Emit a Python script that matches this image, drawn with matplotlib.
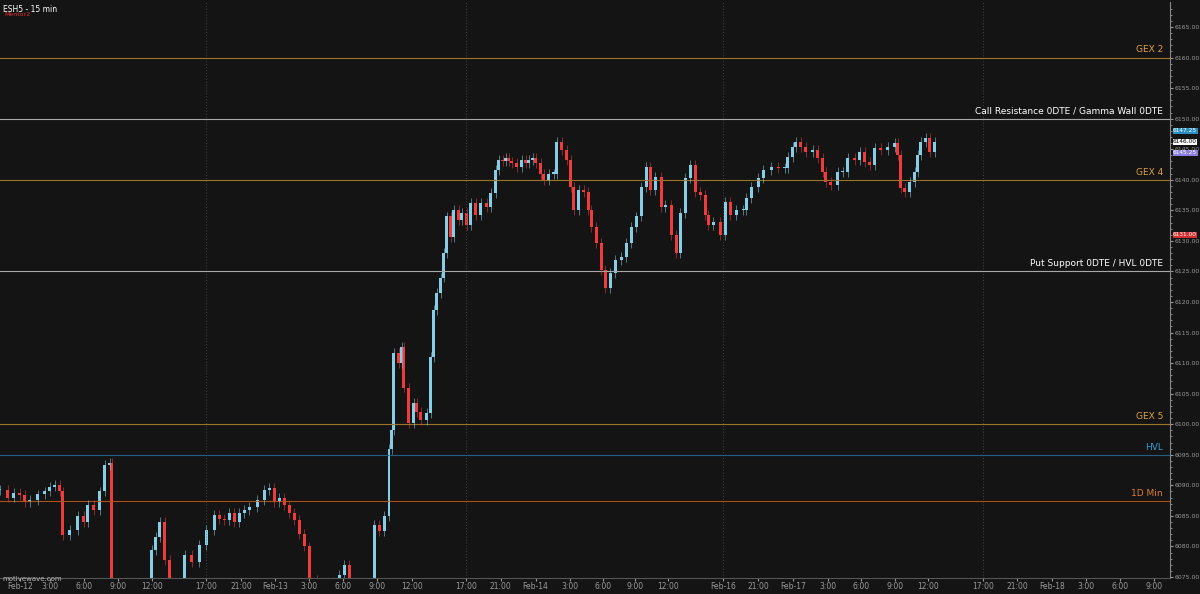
import matplotlib
matplotlib.use("Agg")
import matplotlib.pyplot as plt
import numpy as np

# chart time units (1 unit ~ 5.4 min) and closes
bar_pos = [0,8,14,20,25,30,38,45,50,55,60,63,70,78,84,88,94,100,105,110,112,118,130,145,152,156,160,165,170,175,180,185,192,200,207,215,220,225,230,235,240,245,250,258,265,270,275,280,285,290,295,300,305,310,318,328,340,345,350,360,370,375,380,385,390,393,395,400,403,405,410,415,418,422,428,432,435,438,442,445,448,452,455,460,463,468,472,477,482,488,492,497,500,504,507,510,513,518,523,527,530,534,537,542,545,550,555,558,563,568,572,575,580,585,590,593,598,603,607,612,617,623,628,633,638,643,648,652,657,663,667,673,678,682,687,692,697,702,707,710,715,722,727,732,738,745,748,753,760,765,773,780,787,790,795,798,803,808,815,820,825,828,833,840,845,850,857,862,867,872,877,883,890,897,900,903,907,912,917,920,923,928,932,937]
close = [6089.2,6088.0,6088.8,6088.4,6087.2,6087.6,6088.5,6089.0,6089.8,6090.0,6089.0,6081.9,6082.7,6085.0,6084.0,6086.8,6086.0,6089.0,6093.3,6093.7,6070.0,6068.0,6066.0,6070.0,6079.4,6081.5,6084.0,6077.8,6074.0,6070.0,6074.0,6078.6,6077.5,6080.2,6082.7,6085.2,6084.5,6084.3,6085.5,6084.0,6085.5,6086.0,6086.5,6087.6,6089.2,6089.6,6087.3,6088.0,6086.8,6085.5,6084.3,6082.0,6080.0,6074.5,6068.0,6068.0,6075.3,6077.0,6072.0,6068.0,6068.0,6083.5,6082.5,6085.0,6096.0,6099.0,6111.6,6110.0,6112.6,6106.0,6100.2,6103.5,6102.0,6100.7,6101.8,6111.0,6118.7,6121.5,6124.0,6128.0,6134.0,6130.6,6135.0,6133.4,6134.5,6132.6,6136.2,6134.2,6136.2,6135.5,6137.8,6141.6,6143.2,6143.0,6143.6,6143.0,6142.7,6142.1,6143.2,6142.8,6143.2,6143.5,6142.7,6141.0,6140.0,6141.0,6141.0,6146.2,6144.9,6143.2,6138.8,6135.0,6138.3,6138.0,6135.0,6132.3,6129.7,6125.2,6122.3,6124.7,6126.9,6127.4,6129.7,6132.3,6134.0,6138.8,6142.1,6138.3,6140.5,6135.5,6135.9,6131.0,6128.0,6134.6,6140.3,6142.4,6138.0,6137.5,6134.2,6132.6,6133.1,6131.0,6136.4,6134.2,6135.0,6135.0,6137.0,6138.8,6140.3,6141.6,6142.1,6141.9,6141.9,6143.7,6145.4,6146.2,6145.4,6144.5,6144.9,6143.6,6141.3,6139.6,6139.1,6141.3,6141.3,6143.6,6143.2,6144.5,6142.9,6142.4,6145.2,6144.9,6145.4,6146.0,6144.1,6138.7,6138.0,6139.6,6141.3,6144.1,6146.2,6146.8,6144.5,6146.2]

levels = [6160, 6150, 6140, 6125, 6100, 6095, 6087.5]
level_labels = ["GEX 2", "Call Resistance 0DTE / Gamma Wall 0DTE", "GEX 4",
                "Put Support 0DTE / HVL 0DTE", "GEX 5", "HVL", "1D Min"]
level_colors = ["#9c7428", "#a8a8a8", "#9c7428", "#a8a8a8", "#9c7428", "#235f85", "#a8521a"]
label_colors = ["#e0a040", "#ffffff", "#e0a040", "#ffffff", "#e0a040", "#3a9ad8", "#e07a30"]

xtick_pos = [20,50,84,118,152,207,242,276,310,344,378,413,467,502,537,571,605,637,670,725,760,795,830,863,897,930,986,1020,1055,1089,1123,1157]
xtick_lab = ["Feb-12","3:00","6:00","9:00","12:00","17:00","21:00","Feb-13","3:00","6:00","9:00","12:00",
             "17:00","21:00","Feb-14","3:00","6:00","9:00","12:00","Feb-16","21:00","Feb-17","3:00","6:00",
             "9:00","12:00","17:00","21:00","Feb-18","3:00","6:00","9:00"]
session_lines = [207, 467, 725, 986]
yticks = np.arange(6075, 6166, 5)
price_tags = [(6147.25, "#2a8fc0", "white"), (6146.00, "white", "black"),
              (6145.25, "#8a7fe0", "white"), (6131.00, "#d03030", "white")]

BG = "#141414"
fig = plt.figure(figsize=(12, 5.94), dpi=100, facecolor=BG)
ax = fig.add_axes([0, 16/594, 1170/1200, 576/594], facecolor=BG)
ax.set_xlim(0, 1173)
ax.set_ylim(6165 - 551/6.111, 6165 + 25/6.111)

for x in session_lines:
    ax.axvline(x, color="#444444", lw=0.7, ls=(0, (1, 2)))

for lv, lab, lc, tc in zip(levels, level_labels, level_colors, label_colors):
    ax.axhline(lv, color=lc, lw=0.8)
    ax.text(1166, lv + 0.5, lab, color=tc, fontsize=6.5, ha="right", va="bottom")

up_c, dn_c = "#86cde6", "#ee3b3b"
prev = close[0]
for x, c in zip(bar_pos, close):
    o = prev
    col = up_c if c >= o else dn_c
    hi, lo = max(o, c) + 0.8, min(o, c) - 0.8
    ax.vlines(x, lo, hi, color=col, lw=0.7, alpha=0.55)
    ax.bar(x, max(abs(c - o), 0.2), bottom=min(o, c), width=3.0, color=col, lw=0)
    prev = c

ax.set_xticks(xtick_pos)
ax.set_xticklabels(xtick_lab)
ax.yaxis.tick_right()
ax.set_yticks(yticks)
ax.set_yticklabels([f"{v:.2f}" for v in yticks])
ax.set_yticks(np.arange(6075, 6169, 1), minor=True)
ax.tick_params(axis="x", colors="#9a9a9a", labelsize=5.5, length=2, pad=1)
ax.tick_params(axis="y", colors="#9a9a9a", labelsize=4.4, length=2.5, pad=0.5)
ax.tick_params(axis="y", which="minor", colors="#9a9a9a", length=1.2)
for s in ["top", "left"]:
    ax.spines[s].set_visible(False)
ax.spines["bottom"].set_color("#555555")
ax.spines["right"].set_color("#888888")

tag_y = [6148.0, 6146.2, 6144.4, 6131.0]
for (p, fc, tc), ty in zip(price_tags, tag_y):
    ax.text(1176, ty, f"{p:.2f}", color=tc, fontsize=4.2, va="center", ha="left",
            bbox=dict(boxstyle="square,pad=0.08", fc=fc, ec="none"), clip_on=False)

fig.text(3/1200, 1 - 9/594, "ESH5 - 15 min", color="white", fontsize=5.5, va="center")
fig.text(4/1200, 1 - 15/594, "Mentor2", color="#e03030", fontsize=4.5, va="center")
fig.text(2/1200, 1 - 579/594, "motivewave.com", color="#bbbbbb", fontsize=5, va="center")

fig.savefig("out.png", dpi=100, facecolor=BG)
